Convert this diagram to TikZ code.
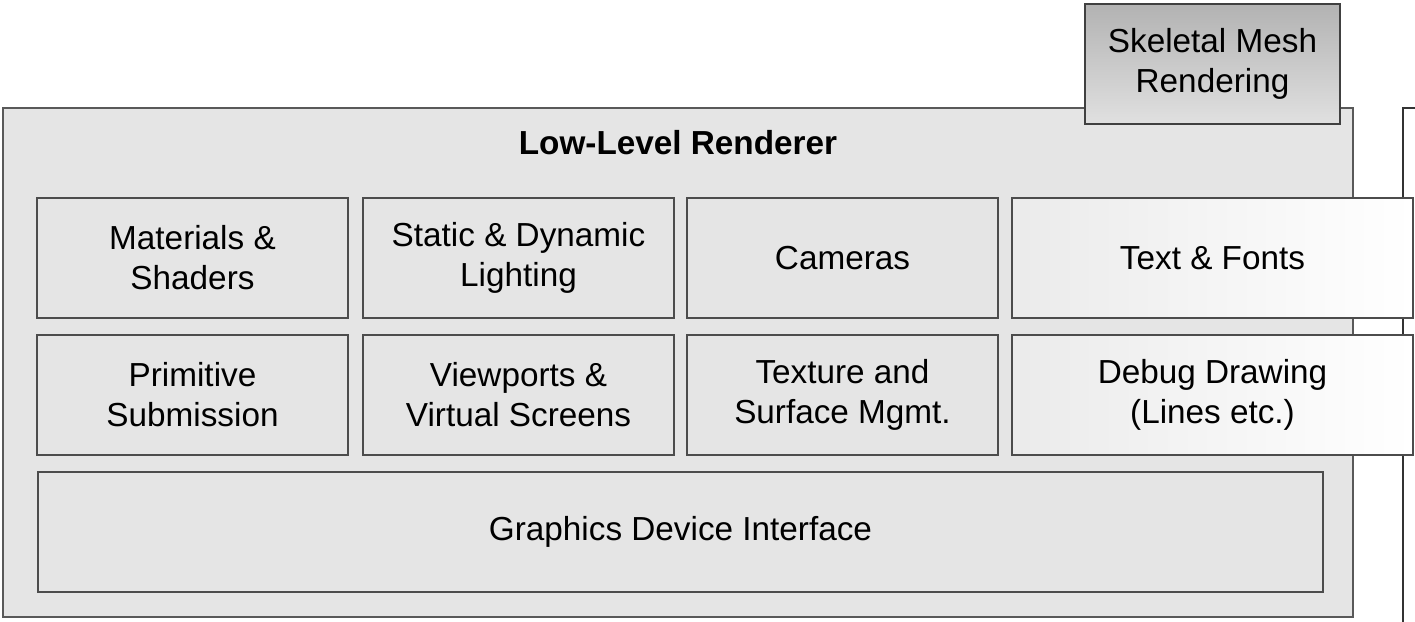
\documentclass[tikz,border=0pt]{standalone}
\usepackage{fontspec}
\setmainfont{Liberation Sans}
\begin{document}
\begin{tikzpicture}[x=1pt,y=-1pt,
  every node/.style={inner sep=0pt, outer sep=0pt},
  txt/.style={font=\fontsize{33.3}{40}\selectfont, align=center},
  cell/.style={draw=black!70, line width=1.2pt, fill=black!10, minimum width=311pt, minimum height=120pt, txt},
  wcell/.style={draw=black!70, line width=1.2pt, left color=black!8, right color=white, minimum width=401pt, minimum height=120pt, txt},
  outerbox/.style={draw=black!65, line width=1.2pt, fill=black!10}
]
\useasboundingbox (0,0) rectangle (1415,621);
\fill[white] (0,0) rectangle (1415,621);
% partial box at right
\draw[black!80, line width=1.2pt] (1416,108) -- (1403,108) -- (1403,622);
% outer box
\node[outerbox, minimum width=1350pt, minimum height=509pt] (llr) at (678,362.5) {};
\node[txt, font=\fontsize{33.3}{40}\selectfont\bfseries] (title) at (678,143) {Low-Level Renderer};
% skeletal mesh
\node[draw=black!75, line width=1.2pt, top color=black!30, bottom color=black!12, minimum width=255pt, minimum height=120pt, txt] (skel) at (1212.5,64) {Skeletal Mesh\\Rendering};
% row 1
\node[cell] (mat) at (192.5,258) {Materials \&\\Shaders};
\node[cell] (light) at (518.5,258) {Static \& Dynamic\\Lighting};
\node[cell] (cam) at (842.5,258) {Cameras};
\node[wcell] (text) at (1212.5,258) {Text \& Fonts};
% row 2
\node[cell] (prim) at (192.5,395) {Primitive\\Submission};
\node[cell] (view) at (518.5,395) {Viewports \&\\Virtual Screens};
\node[cell] (tex) at (842.5,395) {Texture and\\Surface Mgmt.};
\node[wcell] (debug) at (1212.5,395) {Debug Drawing\\(Lines etc.)};
% bottom
\node[cell, minimum width=1285pt] (gdi) at (680.5,532) {Graphics Device Interface};
\end{tikzpicture}
\end{document}
